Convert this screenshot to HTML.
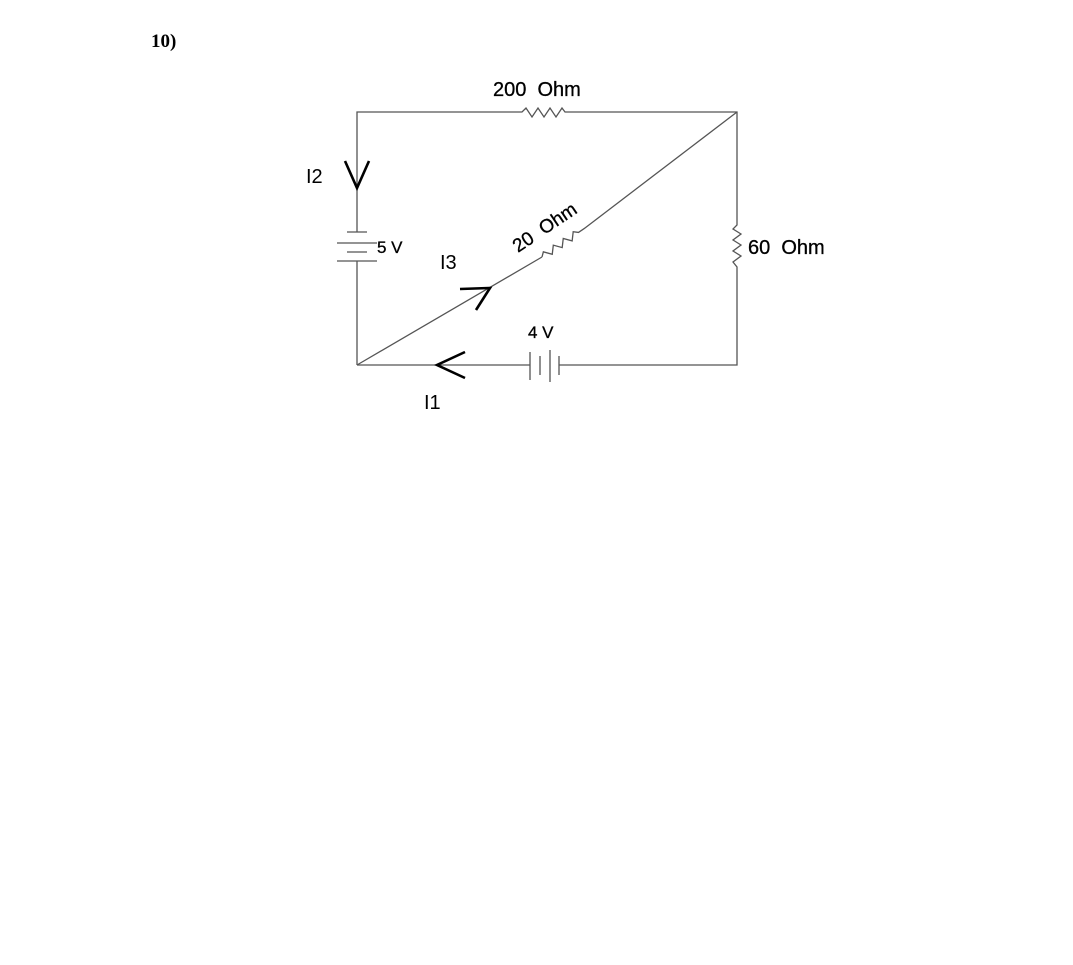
<!DOCTYPE html>
<html><head><style>body{margin:0;background:#fff}svg{display:block}</style></head><body>
<svg width="1073" height="965" viewBox="0 0 1073 965" xmlns="http://www.w3.org/2000/svg">
<text x="151" y="47" font-family="Liberation Serif" font-weight="bold" font-size="19">10)</text>
<g stroke="#555" stroke-width="1.3" fill="none">
<polyline points="357,232 357,112 522,112 526,108 532,117 538,108 544,117 550,108 556,117 562,108 565,112 737,112 737,225 733,229 741,234 733,240 741,245 733,251 741,256 733,262 737,267 737,365 559,365"/>
<line x1="530" y1="365" x2="357" y2="365"/>
<line x1="357" y1="261" x2="357" y2="365"/>
<line x1="357" y1="365" x2="542" y2="257"/>
<polyline transform="translate(542,257) rotate(-34)" points="0,0 4,-3.5 10,3.5 16,-3.5 22,3.5 28,-3.5 34,3.5 40,-3.5 44,0 52,0"/>
<line x1="585" y1="228" x2="737" y2="112"/>
<line x1="347" y1="232" x2="367" y2="232"/>
<line x1="337" y1="243" x2="377" y2="243"/>
<line x1="347" y1="252" x2="367" y2="252"/>
<line x1="337" y1="261" x2="377" y2="261"/>
<line x1="530" y1="352" x2="530" y2="380"/>
<line x1="540" y1="356" x2="540" y2="375"/>
<line x1="550" y1="350" x2="550" y2="382"/>
<line x1="559" y1="356" x2="559" y2="375"/>
</g>
<g stroke="#000" stroke-width="2.6" fill="none">
<polyline points="345,161 357,188 369,161"/>
<polyline points="460,289 490,288 476,310"/>
<polyline points="465,352 437,365 465,378"/>
</g>
<g font-family="Liberation Sans" font-size="20" fill="#000" stroke="#000" stroke-width="0.3">
<text x="493" y="96">200&#160;&#160;Ohm</text>
<text x="748" y="254">60&#160;&#160;Ohm</text>
<text x="306" y="183" stroke-width="0">I2</text>
<text x="440" y="269" stroke-width="0">I3</text>
<text x="424" y="409" stroke-width="0">I1</text>
<text x="528" y="338" font-size="17">4 V</text>
<text x="377" y="253" font-size="17">5 V</text>
<text transform="translate(518,253) rotate(-34)" font-size="19">20&#160;&#160;Ohm</text>
</g>
</svg>
</body></html>
